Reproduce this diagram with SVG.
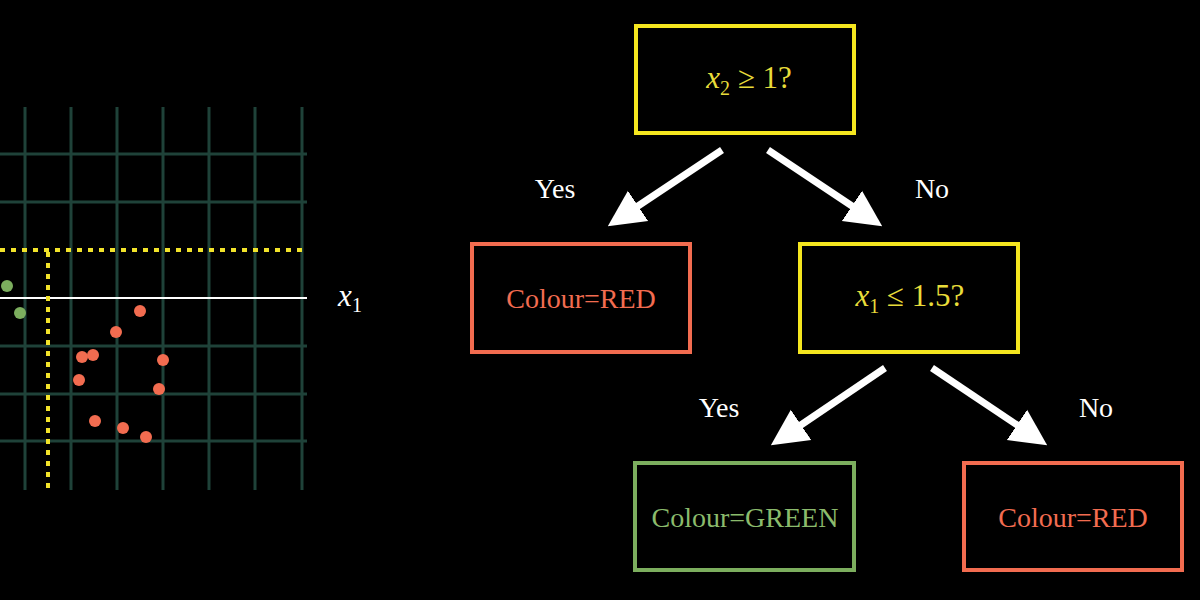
<svg xmlns="http://www.w3.org/2000/svg" width="1200" height="600" viewBox="0 0 1200 600">
<style>
.g{stroke:#1f4239;stroke-width:3}
.t{font-family:"Liberation Serif",serif;font-size:28px;text-anchor:middle}
.q{font-size:31px}
.m{font-style:italic}
.a{stroke:#fff;stroke-width:7}
</style>
<defs><marker id="ah" viewBox="0 0 10 10" refX="2" refY="5" markerWidth="5.2" markerHeight="5.6" orient="auto" markerUnits="strokeWidth"><path d="M0,0L10,5L0,10z" fill="#fff"/></marker></defs>
<rect width="1200" height="600" fill="#000"/>
<g id="plot">
<g class="g">
<line x1="25" y1="107" x2="25" y2="490"/><line x1="71" y1="107" x2="71" y2="490"/><line x1="117" y1="107" x2="117" y2="490"/><line x1="163" y1="107" x2="163" y2="490"/><line x1="209" y1="107" x2="209" y2="490"/><line x1="255" y1="107" x2="255" y2="490"/><line x1="302" y1="107" x2="302" y2="490"/>
<line x1="0" y1="154" x2="307" y2="154"/><line x1="0" y1="202" x2="307" y2="202"/><line x1="0" y1="346" x2="307" y2="346"/><line x1="0" y1="394" x2="307" y2="394"/><line x1="0" y1="441" x2="307" y2="441"/>
</g>
<line x1="0" y1="298" x2="307" y2="298" stroke="#fff" stroke-width="2"/>
<g stroke="#f2e32a" stroke-width="4" stroke-dasharray="5,6">
<line x1="0" y1="250" x2="307" y2="250"/><line x1="48" y1="252" x2="48" y2="490"/>
</g>
<g fill="#7cae5e"><circle cx="7" cy="286" r="6"/><circle cx="20" cy="313" r="6"/></g>
<g fill="#f26c50"><circle cx="140" cy="311" r="6"/><circle cx="116" cy="332" r="6"/><circle cx="82" cy="357" r="6"/><circle cx="93" cy="355" r="6"/><circle cx="79" cy="380" r="6"/><circle cx="163" cy="360" r="6"/><circle cx="159" cy="389" r="6"/><circle cx="95" cy="421" r="6"/><circle cx="123" cy="428" r="6"/><circle cx="146" cy="437" r="6"/></g>
<text x="350" y="306" class="t q m" fill="#fff">x<tspan font-size="20" font-style="normal" dy="6">1</tspan></text>
</g>
<g id="connectors" class="a">
<line x1="722" y1="150" x2="632" y2="210" marker-end="url(#ah)"/>
<line x1="768" y1="150" x2="858" y2="210" marker-end="url(#ah)"/>
<line x1="885" y1="368" x2="795" y2="429" marker-end="url(#ah)"/>
<line x1="932" y1="368" x2="1023" y2="429" marker-end="url(#ah)"/>
</g>
<g id="labels" class="t" fill="#fff">
<text x="555" y="198">Yes</text><text x="932" y="198">No</text><text x="719" y="417">Yes</text><text x="1096" y="417">No</text>
</g>
<g id="n1"><rect x="636" y="26" width="218" height="107" fill="none" stroke="#f5e61f" stroke-width="4"/>
<text x="749" y="88" class="t q" fill="#e8dc3a"><tspan font-style="italic">x</tspan><tspan font-size="20" dy="7">2</tspan><tspan dy="-7"> ≥ 1?</tspan></text></g>
<g id="n2"><rect x="472" y="244" width="218" height="108" fill="none" stroke="#f26c50" stroke-width="4"/>
<text x="581" y="308" class="t" fill="#f26c50">Colour=RED</text></g>
<g id="n3"><rect x="800" y="244" width="218" height="108" fill="none" stroke="#f5e61f" stroke-width="4"/>
<text x="910" y="306" class="t q" fill="#e8dc3a"><tspan font-style="italic">x</tspan><tspan font-size="20" dy="7">1</tspan><tspan dy="-7"> ≤ 1.5?</tspan></text></g>
<g id="n4"><rect x="635" y="463" width="219" height="107" fill="none" stroke="#7cae5e" stroke-width="4"/>
<text x="745" y="527" class="t" fill="#8bbb6c">Colour=GREEN</text></g>
<g id="n5"><rect x="964" y="463" width="218" height="107" fill="none" stroke="#f26c50" stroke-width="4"/>
<text x="1073" y="527" class="t" fill="#f26c50">Colour=RED</text></g>
</svg>
